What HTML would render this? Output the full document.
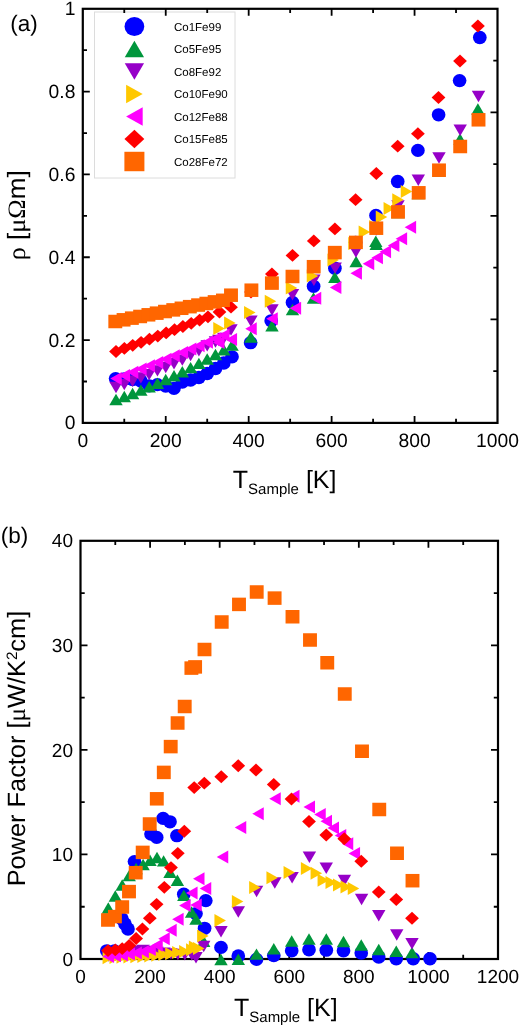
<!DOCTYPE html>
<html lang="en"><head><meta charset="utf-8"><title>CoFe resistivity and power factor</title>
<style>html,body{margin:0;padding:0;background:#fff}svg{display:block}text{font-family:'Liberation Sans', Arial, sans-serif;fill:#000;text-rendering:geometricPrecision}</style>
</head><body>
<svg width="520" height="1028" viewBox="0 0 520 1028">
<rect width="520" height="1028" fill="#fff"/>
<g id="chartA">
<rect x="94.5" y="12" width="140.5" height="166" fill="#fff" stroke="#dcdcdc" stroke-width="1"/>
<path d="M124.27 422.9v-4.2M124.27 8.8v4.2M165.74 422.9v-7M165.74 8.8v7M207.21 422.9v-4.2M207.21 8.8v4.2M248.68 422.9v-7M248.68 8.8v7M290.15 422.9v-4.2M290.15 8.8v4.2M331.62 422.9v-7M331.62 8.8v7M373.09 422.9v-4.2M373.09 8.8v4.2M414.56 422.9v-7M414.56 8.8v7M456.03 422.9v-4.2M456.03 8.8v4.2M82.8 381.49h4.2M82.8 340.08h7M82.8 298.67h4.2M82.8 257.26h7M82.8 215.85h4.2M82.8 174.44h7M82.8 133.03h4.2M82.8 91.62h7M82.8 50.21h4.2M497.5 371.14h-4.2M497.5 319.38h-7M497.5 267.61h-4.2M497.5 215.85h-7M497.5 164.09h-4.2M497.5 112.32h-7M497.5 60.56h-4.2" stroke="#000" stroke-width="1.8" fill="none"/>
<rect x="82.8" y="8.8" width="414.7" height="414.1" fill="none" stroke="#000" stroke-width="2.2"/>
<g><ellipse cx="115.6" cy="378.6" rx="6.85" ry="6.65" fill="#0000FF"/><ellipse cx="124.3" cy="379" rx="6.85" ry="6.65" fill="#0000FF"/><ellipse cx="132.6" cy="379.6" rx="6.85" ry="6.65" fill="#0000FF"/><ellipse cx="140.9" cy="381" rx="6.85" ry="6.65" fill="#0000FF"/><ellipse cx="149.2" cy="385.8" rx="6.85" ry="6.65" fill="#0000FF"/><ellipse cx="157.4" cy="384.6" rx="6.85" ry="6.65" fill="#0000FF"/><ellipse cx="165.7" cy="386" rx="6.85" ry="6.65" fill="#0000FF"/><ellipse cx="174" cy="388.3" rx="6.85" ry="6.65" fill="#0000FF"/><ellipse cx="182.3" cy="382" rx="6.85" ry="6.65" fill="#0000FF"/><ellipse cx="190.6" cy="380" rx="6.85" ry="6.65" fill="#0000FF"/><ellipse cx="198.9" cy="377.5" rx="6.85" ry="6.65" fill="#0000FF"/><ellipse cx="207.2" cy="373.5" rx="6.85" ry="6.65" fill="#0000FF"/><ellipse cx="215.5" cy="368.5" rx="6.85" ry="6.65" fill="#0000FF"/><ellipse cx="223.8" cy="363" rx="6.85" ry="6.65" fill="#0000FF"/><ellipse cx="232" cy="356.8" rx="6.85" ry="6.65" fill="#0000FF"/><ellipse cx="250.6" cy="342.7" rx="6.85" ry="6.65" fill="#0000FF"/><ellipse cx="271.2" cy="320.8" rx="6.85" ry="6.65" fill="#0000FF"/><ellipse cx="292.5" cy="302.5" rx="6.85" ry="6.65" fill="#0000FF"/><ellipse cx="313.6" cy="286.3" rx="6.85" ry="6.65" fill="#0000FF"/><ellipse cx="334.9" cy="268.2" rx="6.85" ry="6.65" fill="#0000FF"/><ellipse cx="355.6" cy="242.5" rx="6.85" ry="6.65" fill="#0000FF"/><ellipse cx="376" cy="215.4" rx="6.85" ry="6.65" fill="#0000FF"/><ellipse cx="397.7" cy="181.5" rx="6.85" ry="6.65" fill="#0000FF"/><ellipse cx="417.9" cy="150.4" rx="6.85" ry="6.65" fill="#0000FF"/><ellipse cx="438.6" cy="114.8" rx="6.85" ry="6.65" fill="#0000FF"/><ellipse cx="459.6" cy="80.6" rx="6.85" ry="6.65" fill="#0000FF"/><ellipse cx="479.8" cy="37.5" rx="6.85" ry="6.65" fill="#0000FF"/></g>
<g><polygon points="109.3,405.2 122.7,405.2 116,393.8" fill="#00963C"/><polygon points="117.59,402.23 130.99,402.23 124.29,390.83" fill="#00963C"/><polygon points="125.88,399.13 139.28,399.13 132.58,387.73" fill="#00963C"/><polygon points="134.17,395.87 147.57,395.87 140.87,384.47" fill="#00963C"/><polygon points="142.46,392.48 155.86,392.48 149.16,381.08" fill="#00963C"/><polygon points="150.75,388.94 164.15,388.94 157.45,377.54" fill="#00963C"/><polygon points="159.04,385.26 172.44,385.26 165.74,373.86" fill="#00963C"/><polygon points="167.33,381.44 180.73,381.44 174.03,370.04" fill="#00963C"/><polygon points="175.62,377.47 189.02,377.47 182.32,366.07" fill="#00963C"/><polygon points="183.91,373.36 197.31,373.36 190.61,361.96" fill="#00963C"/><polygon points="192.2,369.11 205.6,369.11 198.9,357.71" fill="#00963C"/><polygon points="200.49,364.71 213.89,364.71 207.19,353.31" fill="#00963C"/><polygon points="208.78,360.17 222.18,360.17 215.48,348.77" fill="#00963C"/><polygon points="217.07,355.49 230.47,355.49 223.77,344.09" fill="#00963C"/><polygon points="225.36,350.66 238.76,350.66 232.06,339.26" fill="#00963C"/><polygon points="244.1,342.7 257.5,342.7 250.8,331.3" fill="#00963C"/><polygon points="265.3,331.5 278.7,331.5 272,320.1" fill="#00963C"/><polygon points="285.8,315.2 299.2,315.2 292.5,303.8" fill="#00963C"/><polygon points="306.8,303.7 320.2,303.7 313.5,292.3" fill="#00963C"/><polygon points="328.1,283 341.5,283 334.8,271.6" fill="#00963C"/><polygon points="349.4,267.2 362.8,267.2 356.1,255.8" fill="#00963C"/><polygon points="369.1,247 382.5,247 375.8,235.6" fill="#00963C"/><polygon points="369.5,249.9 382.9,249.9 376.2,238.5" fill="#00963C"/><polygon points="391.2,218.3 404.6,218.3 397.9,206.9" fill="#00963C"/><polygon points="411.5,199.3 424.9,199.3 418.2,187.9" fill="#00963C"/><polygon points="432.3,176.7 445.7,176.7 439,165.3" fill="#00963C"/><polygon points="453.3,144.7 466.7,144.7 460,133.3" fill="#00963C"/><polygon points="471.2,114.7 484.6,114.7 477.9,103.3" fill="#00963C"/></g>
<g><polygon points="109.3,381.73 122.7,381.73 116,393.13" fill="#9600C8"/><polygon points="117.59,378.94 130.99,378.94 124.29,390.34" fill="#9600C8"/><polygon points="125.88,375.49 139.28,375.49 132.58,386.89" fill="#9600C8"/><polygon points="134.17,372.2 147.57,372.2 140.87,383.6" fill="#9600C8"/><polygon points="142.46,368.88 155.86,368.88 149.16,380.28" fill="#9600C8"/><polygon points="150.75,365.19 164.15,365.19 157.45,376.59" fill="#9600C8"/><polygon points="159.04,361.82 172.44,361.82 165.74,373.22" fill="#9600C8"/><polygon points="167.33,357.98 180.73,357.98 174.03,369.38" fill="#9600C8"/><polygon points="175.62,354.47 189.02,354.47 182.32,365.87" fill="#9600C8"/><polygon points="183.91,349.85 197.31,349.85 190.61,361.25" fill="#9600C8"/><polygon points="192.2,345.01 205.6,345.01 198.9,356.41" fill="#9600C8"/><polygon points="200.49,340.21 213.89,340.21 207.19,351.61" fill="#9600C8"/><polygon points="208.78,336.31 222.18,336.31 215.48,347.71" fill="#9600C8"/><polygon points="217.07,332.81 230.47,332.81 223.77,344.21" fill="#9600C8"/><polygon points="212.1,334.8 225.5,334.8 218.8,346.2" fill="#9600C8"/><polygon points="224.3,324.3 237.7,324.3 231,335.7" fill="#9600C8"/><polygon points="244.3,315.5 257.7,315.5 251,326.9" fill="#9600C8"/><polygon points="265.3,304.3 278.7,304.3 272,315.7" fill="#9600C8"/><polygon points="285.8,289.1 299.2,289.1 292.5,300.5" fill="#9600C8"/><polygon points="307.2,274.5 320.6,274.5 313.9,285.9" fill="#9600C8"/><polygon points="328.5,262.4 341.9,262.4 335.2,273.8" fill="#9600C8"/><polygon points="349.2,246.3 362.6,246.3 355.9,257.7" fill="#9600C8"/><polygon points="369.8,224.3 383.2,224.3 376.5,235.7" fill="#9600C8"/><polygon points="391.3,200.3 404.7,200.3 398,211.7" fill="#9600C8"/><polygon points="411.6,174.5 425,174.5 418.3,185.9" fill="#9600C8"/><polygon points="432.3,152.3 445.7,152.3 439,163.7" fill="#9600C8"/><polygon points="453.5,124.5 466.9,124.5 460.2,135.9" fill="#9600C8"/><polygon points="471.8,90.8 485.2,90.8 478.5,102.2" fill="#9600C8"/></g>
<g><polygon points="213.25,322.1 213.25,335.1 224.75,328.6" fill="#FFC800"/><polygon points="224.15,316.5 224.15,329.5 235.65,323" fill="#FFC800"/><polygon points="244.05,305.9 244.05,318.9 255.55,312.4" fill="#FFC800"/><polygon points="264.75,294.7 264.75,307.7 276.25,301.2" fill="#FFC800"/><polygon points="285.75,281.5 285.75,294.5 297.25,288" fill="#FFC800"/><polygon points="306.75,269.5 306.75,282.5 318.25,276" fill="#FFC800"/><polygon points="327.45,253.5 327.45,266.5 338.95,260" fill="#FFC800"/><polygon points="348.25,237 348.25,250 359.75,243.5" fill="#FFC800"/><polygon points="358.65,225.5 358.65,238.5 370.15,232" fill="#FFC800"/><polygon points="369.25,220 369.25,233 380.75,226.5" fill="#FFC800"/><polygon points="375.75,210.6 375.75,223.6 387.25,217.1" fill="#FFC800"/><polygon points="383.55,201.9 383.55,214.9 395.05,208.4" fill="#FFC800"/><polygon points="392.25,193.2 392.25,206.2 403.75,199.7" fill="#FFC800"/><polygon points="400.75,184.9 400.75,197.9 412.25,191.4" fill="#FFC800"/></g>
<g><polygon points="121.75,372.1 121.75,385.1 110.25,378.6" fill="#FF00FF"/><polygon points="130.04,368.93 130.04,381.93 118.54,375.43" fill="#FF00FF"/><polygon points="138.33,365.74 138.33,378.74 126.83,372.24" fill="#FF00FF"/><polygon points="146.62,362.51 146.62,375.51 135.12,369.01" fill="#FF00FF"/><polygon points="154.91,359.26 154.91,372.26 143.41,365.76" fill="#FF00FF"/><polygon points="163.2,355.98 163.2,368.98 151.7,362.48" fill="#FF00FF"/><polygon points="171.49,352.67 171.49,365.67 159.99,359.17" fill="#FF00FF"/><polygon points="179.78,349.33 179.78,362.33 168.28,355.83" fill="#FF00FF"/><polygon points="188.07,345.97 188.07,358.97 176.57,352.47" fill="#FF00FF"/><polygon points="196.36,342.57 196.36,355.57 184.86,349.07" fill="#FF00FF"/><polygon points="204.65,339.15 204.65,352.15 193.15,345.65" fill="#FF00FF"/><polygon points="212.94,335.7 212.94,348.7 201.44,342.2" fill="#FF00FF"/><polygon points="221.23,332.22 221.23,345.22 209.73,338.72" fill="#FF00FF"/><polygon points="229.52,328.71 229.52,341.71 218.02,335.21" fill="#FF00FF"/><polygon points="224.55,336 224.55,349 213.05,342.5" fill="#FF00FF"/><polygon points="237.05,332.9 237.05,345.9 225.55,339.4" fill="#FF00FF"/><polygon points="256.75,322.3 256.75,335.3 245.25,328.8" fill="#FF00FF"/><polygon points="277.75,312.3 277.75,325.3 266.25,318.8" fill="#FF00FF"/><polygon points="301.15,301.8 301.15,314.8 289.65,308.3" fill="#FF00FF"/><polygon points="321.25,291.7 321.25,304.7 309.75,298.2" fill="#FF00FF"/><polygon points="341.35,281 341.35,294 329.85,287.5" fill="#FF00FF"/><polygon points="361.95,266.7 361.95,279.7 350.45,273.2" fill="#FF00FF"/><polygon points="374.25,257.3 374.25,270.3 362.75,263.8" fill="#FF00FF"/><polygon points="382.95,251.2 382.95,264.2 371.45,257.7" fill="#FF00FF"/><polygon points="391.05,245.2 391.05,258.2 379.55,251.7" fill="#FF00FF"/><polygon points="399.35,239.1 399.35,252.1 387.85,245.6" fill="#FF00FF"/><polygon points="407.15,232.2 407.15,245.2 395.65,238.7" fill="#FF00FF"/><polygon points="416.15,220.8 416.15,233.8 404.65,227.3" fill="#FF00FF"/></g>
<g><polygon points="109.1,351.5 116,345.1 122.9,351.5 116,357.9" fill="#FF0000"/><polygon points="117.46,348.45 124.36,342.05 131.26,348.45 124.36,354.85" fill="#FF0000"/><polygon points="125.82,345.37 132.72,338.97 139.62,345.37 132.72,351.77" fill="#FF0000"/><polygon points="134.18,342.28 141.08,335.88 147.98,342.28 141.08,348.68" fill="#FF0000"/><polygon points="142.54,339.16 149.44,332.76 156.34,339.16 149.44,345.56" fill="#FF0000"/><polygon points="150.9,336.03 157.8,329.63 164.7,336.03 157.8,342.43" fill="#FF0000"/><polygon points="159.26,332.88 166.16,326.48 173.06,332.88 166.16,339.28" fill="#FF0000"/><polygon points="167.62,329.71 174.52,323.31 181.42,329.71 174.52,336.11" fill="#FF0000"/><polygon points="175.98,326.51 182.88,320.11 189.78,326.51 182.88,332.91" fill="#FF0000"/><polygon points="184.34,323.3 191.24,316.9 198.14,323.3 191.24,329.7" fill="#FF0000"/><polygon points="192.7,320.07 199.6,313.67 206.5,320.07 199.6,326.47" fill="#FF0000"/><polygon points="201.06,316.82 207.96,310.42 214.86,316.82 207.96,323.22" fill="#FF0000"/><polygon points="212.6,312 219.5,305.6 226.4,312 219.5,318.4" fill="#FF0000"/><polygon points="224.1,307.2 231,300.8 237.9,307.2 231,313.6" fill="#FF0000"/><polygon points="244.1,292 251,285.6 257.9,292 251,298.4" fill="#FF0000"/><polygon points="265,274 271.9,267.6 278.8,274 271.9,280.4" fill="#FF0000"/><polygon points="285.6,255.4 292.5,249 299.4,255.4 292.5,261.8" fill="#FF0000"/><polygon points="306.9,240.9 313.8,234.5 320.7,240.9 313.8,247.3" fill="#FF0000"/><polygon points="328,228.9 334.9,222.5 341.8,228.9 334.9,235.3" fill="#FF0000"/><polygon points="348.7,199.7 355.6,193.3 362.5,199.7 355.6,206.1" fill="#FF0000"/><polygon points="369.4,173.5 376.3,167.1 383.2,173.5 376.3,179.9" fill="#FF0000"/><polygon points="390.8,146.2 397.7,139.8 404.6,146.2 397.7,152.6" fill="#FF0000"/><polygon points="411,133.7 417.9,127.3 424.8,133.7 417.9,140.1" fill="#FF0000"/><polygon points="431.6,97.5 438.5,91.1 445.4,97.5 438.5,103.9" fill="#FF0000"/><polygon points="453.1,61 460,54.6 466.9,61 460,67.4" fill="#FF0000"/><polygon points="471,26 477.9,19.6 484.8,26 477.9,32.4" fill="#FF0000"/></g>
<g><rect x="108.35" y="314.75" width="13.9" height="13.5" fill="#FF6600"/><rect x="116.63" y="313.06" width="13.9" height="13.5" fill="#FF6600"/><rect x="124.91" y="311.39" width="13.9" height="13.5" fill="#FF6600"/><rect x="133.19" y="309.72" width="13.9" height="13.5" fill="#FF6600"/><rect x="141.47" y="308.06" width="13.9" height="13.5" fill="#FF6600"/><rect x="149.75" y="306.41" width="13.9" height="13.5" fill="#FF6600"/><rect x="158.03" y="304.77" width="13.9" height="13.5" fill="#FF6600"/><rect x="166.31" y="303.14" width="13.9" height="13.5" fill="#FF6600"/><rect x="174.59" y="301.52" width="13.9" height="13.5" fill="#FF6600"/><rect x="182.87" y="299.91" width="13.9" height="13.5" fill="#FF6600"/><rect x="191.15" y="298.31" width="13.9" height="13.5" fill="#FF6600"/><rect x="199.43" y="296.72" width="13.9" height="13.5" fill="#FF6600"/><rect x="207.71" y="295.13" width="13.9" height="13.5" fill="#FF6600"/><rect x="215.99" y="293.56" width="13.9" height="13.5" fill="#FF6600"/><rect x="224.05" y="288.45" width="13.9" height="13.5" fill="#FF6600"/><rect x="244.45" y="283.45" width="13.9" height="13.5" fill="#FF6600"/><rect x="264.95" y="276.35" width="13.9" height="13.5" fill="#FF6600"/><rect x="285.55" y="269.75" width="13.9" height="13.5" fill="#FF6600"/><rect x="306.75" y="259.95" width="13.9" height="13.5" fill="#FF6600"/><rect x="327.85" y="245.85" width="13.9" height="13.5" fill="#FF6600"/><rect x="348.95" y="235.65" width="13.9" height="13.5" fill="#FF6600"/><rect x="369.35" y="221.45" width="13.9" height="13.5" fill="#FF6600"/><rect x="391.05" y="205.15" width="13.9" height="13.5" fill="#FF6600"/><rect x="411.75" y="186.05" width="13.9" height="13.5" fill="#FF6600"/><rect x="432.05" y="163.45" width="13.9" height="13.5" fill="#FF6600"/><rect x="453.25" y="139.75" width="13.9" height="13.5" fill="#FF6600"/><rect x="471.55" y="113.05" width="13.9" height="13.5" fill="#FF6600"/></g>
<ellipse cx="134.4" cy="26.5" rx="9.86" ry="9.58" fill="#0000FF"/>
<text x="174" y="30.7" font-size="11.5">Co1Fe99</text>
<polygon points="124.75,57.21 144.05,57.21 134.4,40.79" fill="#00963C"/>
<text x="174" y="53.2" font-size="11.5">Co5Fe95</text>
<polygon points="124.75,63.29 144.05,63.29 134.4,79.71" fill="#9600C8"/>
<text x="174" y="75.7" font-size="11.5">Co8Fe92</text>
<polygon points="126.12,84.64 126.12,103.36 142.68,94" fill="#FFC800"/>
<text x="174" y="98.2" font-size="11.5">Co10Fe90</text>
<polygon points="142.68,107.14 142.68,125.86 126.12,116.5" fill="#FF00FF"/>
<text x="174" y="120.7" font-size="11.5">Co12Fe88</text>
<polygon points="124.46,139 134.4,129.78 144.34,139 134.4,148.22" fill="#FF0000"/>
<text x="174" y="143.2" font-size="11.5">Co15Fe85</text>
<rect x="124.39" y="151.78" width="20.02" height="19.44" fill="#FF6600"/>
<text x="174" y="165.7" font-size="11.5">Co28Fe72</text>
<text x="82.8" y="447.4" font-size="19.3" text-anchor="middle">0</text>
<text x="165.74" y="447.4" font-size="19.3" text-anchor="middle">200</text>
<text x="248.68" y="447.4" font-size="19.3" text-anchor="middle">400</text>
<text x="331.62" y="447.4" font-size="19.3" text-anchor="middle">600</text>
<text x="414.56" y="447.4" font-size="19.3" text-anchor="middle">800</text>
<text x="497.5" y="447.4" font-size="19.3" text-anchor="middle">1000</text>
<text x="75.4" y="429.4" font-size="19.3" text-anchor="end">0</text>
<text x="75.4" y="346.58" font-size="19.3" text-anchor="end">0.2</text>
<text x="75.4" y="263.76" font-size="19.3" text-anchor="end">0.4</text>
<text x="75.4" y="180.94" font-size="19.3" text-anchor="end">0.6</text>
<text x="75.4" y="98.12" font-size="19.3" text-anchor="end">0.8</text>
<text x="75.4" y="14.7" font-size="19.3" text-anchor="end">1</text>
<text x="10.2" y="30.8" font-size="22.5">(a)</text>
<text x="232.8" y="487.6" font-size="25">T<tspan font-size="15" dy="6.2">Sample</tspan><tspan dy="-6.2"> [K]</tspan></text>
<text transform="translate(25.3 260.2) rotate(-90)" font-size="25" textLength="90" lengthAdjust="spacingAndGlyphs"><tspan font-family='Liberation Serif, DejaVu Serif, serif'>ρ</tspan> [<tspan font-family='Liberation Serif, DejaVu Serif, serif'>μΩ</tspan>m]</text>
</g>
<g id="chartB">
<path d="M115.29 959v-4.2M115.29 540.8v4.2M150.08 959v-7M150.08 540.8v7M184.88 959v-4.2M184.88 540.8v4.2M219.67 959v-7M219.67 540.8v7M254.46 959v-4.2M254.46 540.8v4.2M289.25 959v-7M289.25 540.8v7M324.04 959v-4.2M324.04 540.8v4.2M358.83 959v-7M358.83 540.8v7M393.62 959v-4.2M393.62 540.8v4.2M428.42 959v-7M428.42 540.8v7M463.21 959v-4.2M463.21 540.8v4.2M80.5 906.73h4.2M498 906.73h-4.2M80.5 854.45h7M498 854.45h-7M80.5 802.17h4.2M498 802.17h-4.2M80.5 749.9h7M498 749.9h-7M80.5 697.62h4.2M498 697.62h-4.2M80.5 645.35h7M498 645.35h-7M80.5 593.07h4.2M498 593.07h-4.2" stroke="#000" stroke-width="1.8" fill="none"/>
<rect x="80.5" y="540.8" width="417.5" height="418.2" fill="none" stroke="#000" stroke-width="2.2"/>
<g><ellipse cx="106.8" cy="950.8" rx="6.85" ry="6.65" fill="#0000FF"/><ellipse cx="114.5" cy="951" rx="6.85" ry="6.65" fill="#0000FF"/><ellipse cx="122" cy="919" rx="6.85" ry="6.65" fill="#0000FF"/><ellipse cx="125" cy="924" rx="6.85" ry="6.65" fill="#0000FF"/><ellipse cx="128" cy="929" rx="6.85" ry="6.65" fill="#0000FF"/><ellipse cx="134.5" cy="861.6" rx="6.85" ry="6.65" fill="#0000FF"/><ellipse cx="151" cy="834" rx="6.85" ry="6.65" fill="#0000FF"/><ellipse cx="156.7" cy="837.4" rx="6.85" ry="6.65" fill="#0000FF"/><ellipse cx="163.1" cy="818.4" rx="6.85" ry="6.65" fill="#0000FF"/><ellipse cx="170" cy="821.8" rx="6.85" ry="6.65" fill="#0000FF"/><ellipse cx="176.9" cy="835.7" rx="6.85" ry="6.65" fill="#0000FF"/><ellipse cx="183.8" cy="894.2" rx="6.85" ry="6.65" fill="#0000FF"/><ellipse cx="205.8" cy="900.6" rx="6.85" ry="6.65" fill="#0000FF"/><ellipse cx="196" cy="913.6" rx="6.85" ry="6.65" fill="#0000FF"/><ellipse cx="204.6" cy="928.3" rx="6.85" ry="6.65" fill="#0000FF"/><ellipse cx="221" cy="947.4" rx="6.85" ry="6.65" fill="#0000FF"/><ellipse cx="238.3" cy="956" rx="6.85" ry="6.65" fill="#0000FF"/><ellipse cx="256.5" cy="959.4" rx="6.85" ry="6.65" fill="#0000FF"/><ellipse cx="273.8" cy="955.6" rx="6.85" ry="6.65" fill="#0000FF"/><ellipse cx="291.7" cy="950.8" rx="6.85" ry="6.65" fill="#0000FF"/><ellipse cx="309" cy="949.8" rx="6.85" ry="6.65" fill="#0000FF"/><ellipse cx="326.3" cy="950.2" rx="6.85" ry="6.65" fill="#0000FF"/><ellipse cx="343.5" cy="950.8" rx="6.85" ry="6.65" fill="#0000FF"/><ellipse cx="361.25" cy="953" rx="6.85" ry="6.65" fill="#0000FF"/><ellipse cx="378.75" cy="957" rx="6.85" ry="6.65" fill="#0000FF"/><ellipse cx="396.25" cy="958.75" rx="6.85" ry="6.65" fill="#0000FF"/><ellipse cx="413.25" cy="958.75" rx="6.85" ry="6.65" fill="#0000FF"/><ellipse cx="430" cy="958.75" rx="6.85" ry="6.65" fill="#0000FF"/></g>
<g><polygon points="101.6,913.7 115,913.7 108.3,902.3" fill="#00963C"/><polygon points="108.6,901.7 122,901.7 115.3,890.3" fill="#00963C"/><polygon points="115.5,890.7 128.9,890.7 122.2,879.3" fill="#00963C"/><polygon points="122.5,881.2 135.9,881.2 129.2,869.8" fill="#00963C"/><polygon points="129.4,874.2 142.8,874.2 136.1,862.8" fill="#00963C"/><polygon points="136.4,870.2 149.8,870.2 143.1,858.8" fill="#00963C"/><polygon points="143.3,866 156.7,866 150,854.6" fill="#00963C"/><polygon points="150.3,863.2 163.7,863.2 157,851.8" fill="#00963C"/><polygon points="156.9,866.6 170.3,866.6 163.6,855.2" fill="#00963C"/><polygon points="163.3,877.9 176.7,877.9 170,866.5" fill="#00963C"/><polygon points="170.7,886 184.1,886 177.4,874.6" fill="#00963C"/><polygon points="177.1,901.1 190.5,901.1 183.8,889.7" fill="#00963C"/><polygon points="184.9,917.7 198.3,917.7 191.6,906.3" fill="#00963C"/><polygon points="189.3,924.7 202.7,924.7 196,913.3" fill="#00963C"/><polygon points="197,947 210.4,947 203.7,935.6" fill="#00963C"/><polygon points="214.3,965.2 227.7,965.2 221,953.8" fill="#00963C"/><polygon points="231.6,965 245,965 238.3,953.6" fill="#00963C"/><polygon points="249.8,959.8 263.2,959.8 256.5,948.4" fill="#00963C"/><polygon points="267.1,954.5 280.5,954.5 273.8,943.1" fill="#00963C"/><polygon points="285,946.7 298.4,946.7 291.7,935.3" fill="#00963C"/><polygon points="302.3,944.7 315.7,944.7 309,933.3" fill="#00963C"/><polygon points="319.6,944.7 333,944.7 326.3,933.3" fill="#00963C"/><polygon points="336.8,947.2 350.2,947.2 343.5,935.8" fill="#00963C"/><polygon points="354.55,950.7 367.95,950.7 361.25,939.3" fill="#00963C"/><polygon points="372.05,955.2 385.45,955.2 378.75,943.8" fill="#00963C"/><polygon points="389.55,956.95 402.95,956.95 396.25,945.55" fill="#00963C"/><polygon points="405.3,958.2 418.7,958.2 412,946.8" fill="#00963C"/></g>
<g><polygon points="101.6,950.3 115,950.3 108.3,961.7" fill="#9600C8"/><polygon points="108.56,949.63 121.96,949.63 115.26,961.03" fill="#9600C8"/><polygon points="115.52,948.96 128.92,948.96 122.22,960.36" fill="#9600C8"/><polygon points="122.48,948.23 135.88,948.23 129.18,959.63" fill="#9600C8"/><polygon points="129.44,945.58 142.84,945.58 136.14,956.98" fill="#9600C8"/><polygon points="136.4,944.81 149.8,944.81 143.1,956.21" fill="#9600C8"/><polygon points="143.36,945.81 156.76,945.81 150.06,957.21" fill="#9600C8"/><polygon points="150.32,946.8 163.72,946.8 157.02,958.2" fill="#9600C8"/><polygon points="157.28,947.46 170.68,947.46 163.98,958.86" fill="#9600C8"/><polygon points="164.24,948.13 177.64,948.13 170.94,959.53" fill="#9600C8"/><polygon points="171.2,948.79 184.6,948.79 177.9,960.19" fill="#9600C8"/><polygon points="178.16,949.04 191.56,949.04 184.86,960.45" fill="#9600C8"/><polygon points="185.12,949.29 198.52,949.29 191.82,960.69" fill="#9600C8"/><polygon points="189.3,952.1 202.7,952.1 196,963.5" fill="#9600C8"/><polygon points="197,940.8 210.4,940.8 203.7,952.2" fill="#9600C8"/><polygon points="214.3,926.1 227.7,926.1 221,937.5" fill="#9600C8"/><polygon points="231.6,906.3 245,906.3 238.3,917.7" fill="#9600C8"/><polygon points="249.9,885.8 263.3,885.8 256.6,897.2" fill="#9600C8"/><polygon points="268.1,877.3 281.5,877.3 274.8,888.7" fill="#9600C8"/><polygon points="285.4,872.1 298.8,872.1 292.1,883.5" fill="#9600C8"/><polygon points="302.7,851.6 316.1,851.6 309.4,863" fill="#9600C8"/><polygon points="319.55,862.55 332.95,862.55 326.25,873.95" fill="#9600C8"/><polygon points="337.7,874.8 351.1,874.8 344.4,886.2" fill="#9600C8"/><polygon points="354.9,893.8 368.3,893.8 361.6,905.2" fill="#9600C8"/><polygon points="372.05,910.05 385.45,910.05 378.75,921.45" fill="#9600C8"/><polygon points="390.05,929.3 403.45,929.3 396.75,940.7" fill="#9600C8"/><polygon points="405.3,938.05 418.7,938.05 412,949.45" fill="#9600C8"/></g>
<g><polygon points="102.55,951.3 102.55,964.3 114.05,957.8" fill="#FFC800"/><polygon points="109.51,951.06 109.51,964.06 121.01,957.56" fill="#FFC800"/><polygon points="116.47,950.82 116.47,963.82 127.97,957.32" fill="#FFC800"/><polygon points="123.43,950.58 123.43,963.58 134.93,957.08" fill="#FFC800"/><polygon points="130.39,950.34 130.39,963.34 141.89,956.84" fill="#FFC800"/><polygon points="137.35,950.1 137.35,963.1 148.85,956.6" fill="#FFC800"/><polygon points="144.31,949.56 144.31,962.56 155.81,956.06" fill="#FFC800"/><polygon points="151.27,948.8 151.27,961.8 162.77,955.3" fill="#FFC800"/><polygon points="158.23,948.05 158.23,961.05 169.73,954.55" fill="#FFC800"/><polygon points="165.19,947.2 165.19,960.2 176.69,953.7" fill="#FFC800"/><polygon points="172.15,946.11 172.15,959.11 183.65,952.61" fill="#FFC800"/><polygon points="179.11,945.02 179.11,958.02 190.61,951.52" fill="#FFC800"/><polygon points="186.07,943.34 186.07,956.34 197.57,949.84" fill="#FFC800"/><polygon points="193.03,942.04 193.03,955.04 204.53,948.54" fill="#FFC800"/><polygon points="188.85,940.5 188.85,953.5 200.35,947" fill="#FFC800"/><polygon points="197.15,929.5 197.15,942.5 208.65,936" fill="#FFC800"/><polygon points="214.45,914 214.45,927 225.95,920.5" fill="#FFC800"/><polygon points="231.85,894.9 231.85,907.9 243.35,901.4" fill="#FFC800"/><polygon points="249.15,880.9 249.15,893.9 260.65,887.4" fill="#FFC800"/><polygon points="266.45,871.2 266.45,884.2 277.95,877.7" fill="#FFC800"/><polygon points="283.55,866 283.55,879 295.05,872.5" fill="#FFC800"/><polygon points="300.85,861.9 300.85,874.9 312.35,868.4" fill="#FFC800"/><polygon points="310.55,866.7 310.55,879.7 322.05,873.2" fill="#FFC800"/><polygon points="317.55,873.8 317.55,886.8 329.05,880.3" fill="#FFC800"/><polygon points="325.5,876 325.5,889 337,882.5" fill="#FFC800"/><polygon points="333,878.5 333,891.5 344.5,885" fill="#FFC800"/><polygon points="340.5,880.5 340.5,893.5 352,887" fill="#FFC800"/><polygon points="347.75,882 347.75,895 359.25,888.5" fill="#FFC800"/></g>
<g><polygon points="114.05,950 114.05,963 102.55,956.5" fill="#FF00FF"/><polygon points="121.01,949.24 121.01,962.24 109.51,955.74" fill="#FF00FF"/><polygon points="127.97,948.47 127.97,961.47 116.47,954.97" fill="#FF00FF"/><polygon points="134.93,947.47 134.93,960.47 123.43,953.97" fill="#FF00FF"/><polygon points="141.89,946.47 141.89,959.47 130.39,952.97" fill="#FF00FF"/><polygon points="148.85,945.21 148.85,958.21 137.35,951.71" fill="#FF00FF"/><polygon points="155.81,942.88 155.81,955.88 144.31,949.38" fill="#FF00FF"/><polygon points="162.77,938.66 162.77,951.66 151.27,945.16" fill="#FF00FF"/><polygon points="169.73,932.3 169.73,945.3 158.23,938.8" fill="#FF00FF"/><polygon points="176.69,923.82 176.69,936.82 165.19,930.32" fill="#FF00FF"/><polygon points="183.65,912.65 183.65,925.65 172.15,919.15" fill="#FF00FF"/><polygon points="190.61,898.98 190.61,911.98 179.11,905.48" fill="#FF00FF"/><polygon points="197.57,886.53 197.57,899.53 186.07,893.03" fill="#FF00FF"/><polygon points="204.53,872.14 204.53,885.14 193.03,878.64" fill="#FF00FF"/><polygon points="201.75,898.5 201.75,911.5 190.25,905" fill="#FF00FF"/><polygon points="211.25,882 211.25,895 199.75,888.5" fill="#FF00FF"/><polygon points="228.25,850.5 228.25,863.5 216.75,857" fill="#FF00FF"/><polygon points="246.25,821 246.25,834 234.75,827.5" fill="#FF00FF"/><polygon points="263.75,807.25 263.75,820.25 252.25,813.75" fill="#FF00FF"/><polygon points="280.75,792.25 280.75,805.25 269.25,798.75" fill="#FF00FF"/><polygon points="299.5,789.75 299.5,802.75 288,796.25" fill="#FF00FF"/><polygon points="315,800.4 315,813.4 303.5,806.9" fill="#FF00FF"/><polygon points="325.75,808 325.75,821 314.25,814.5" fill="#FF00FF"/><polygon points="332,814.75 332,827.75 320.5,821.25" fill="#FF00FF"/><polygon points="339,821.5 339,834.5 327.5,828" fill="#FF00FF"/><polygon points="346.25,829 346.25,842 334.75,835.5" fill="#FF00FF"/><polygon points="353.25,837.25 353.25,850.25 341.75,843.75" fill="#FF00FF"/><polygon points="360.05,846.9 360.05,859.9 348.55,853.4" fill="#FF00FF"/></g>
<g><polygon points="101.1,950.6 108,944.2 114.9,950.6 108,957" fill="#FF0000"/><polygon points="108.4,949.8 115.3,943.4 122.2,949.8 115.3,956.2" fill="#FF0000"/><polygon points="115.3,948.6 122.2,942.2 129.1,948.6 122.2,955" fill="#FF0000"/><polygon points="122.3,945.5 129.2,939.1 136.1,945.5 129.2,951.9" fill="#FF0000"/><polygon points="129.2,938.5 136.1,932.1 143,938.5 136.1,944.9" fill="#FF0000"/><polygon points="135.5,929 142.4,922.6 149.3,929 142.4,935.4" fill="#FF0000"/><polygon points="142.9,918.2 149.8,911.8 156.7,918.2 149.8,924.6" fill="#FF0000"/><polygon points="149.7,904.3 156.6,897.9 163.5,904.3 156.6,910.7" fill="#FF0000"/><polygon points="157.4,887.3 164.3,880.9 171.2,887.3 164.3,893.7" fill="#FF0000"/><polygon points="164.1,867.6 171,861.2 177.9,867.6 171,874" fill="#FF0000"/><polygon points="170.9,853.3 177.8,846.9 184.7,853.3 177.8,859.7" fill="#FF0000"/><polygon points="177.4,831.25 184.3,824.85 191.2,831.25 184.3,837.65" fill="#FF0000"/><polygon points="187.3,787.6 194.2,781.2 201.1,787.6 194.2,794" fill="#FF0000"/><polygon points="197.4,783.2 204.3,776.8 211.2,783.2 204.3,789.6" fill="#FF0000"/><polygon points="214.35,776.75 221.25,770.35 228.15,776.75 221.25,783.15" fill="#FF0000"/><polygon points="231.35,765.75 238.25,759.35 245.15,765.75 238.25,772.15" fill="#FF0000"/><polygon points="249.1,770 256,763.6 262.9,770 256,776.4" fill="#FF0000"/><polygon points="266.85,784.5 273.75,778.1 280.65,784.5 273.75,790.9" fill="#FF0000"/><polygon points="284.6,799 291.5,792.6 298.4,799 291.5,805.4" fill="#FF0000"/><polygon points="302.1,821.5 309,815.1 315.9,821.5 309,827.9" fill="#FF0000"/><polygon points="319.35,835 326.25,828.6 333.15,835 326.25,841.4" fill="#FF0000"/><polygon points="337.35,838.75 344.25,832.35 351.15,838.75 344.25,845.15" fill="#FF0000"/><polygon points="354.35,861.25 361.25,854.85 368.15,861.25 361.25,867.65" fill="#FF0000"/><polygon points="371.85,892 378.75,885.6 385.65,892 378.75,898.4" fill="#FF0000"/><polygon points="389.35,899.5 396.25,893.1 403.15,899.5 396.25,905.9" fill="#FF0000"/><polygon points="405.1,918.25 412,911.85 418.9,918.25 412,924.65" fill="#FF0000"/></g>
<g><rect x="101.05" y="913.25" width="13.9" height="13.5" fill="#FF6600"/><rect x="107.95" y="909.85" width="13.9" height="13.5" fill="#FF6600"/><rect x="115.25" y="900.25" width="13.9" height="13.5" fill="#FF6600"/><rect x="122.05" y="884.85" width="13.9" height="13.5" fill="#FF6600"/><rect x="128.75" y="865.95" width="13.9" height="13.5" fill="#FF6600"/><rect x="135.75" y="845.65" width="13.9" height="13.5" fill="#FF6600"/><rect x="142.75" y="817.25" width="13.9" height="13.5" fill="#FF6600"/><rect x="149.85" y="792.05" width="13.9" height="13.5" fill="#FF6600"/><rect x="156.85" y="765.65" width="13.9" height="13.5" fill="#FF6600"/><rect x="163.75" y="739.85" width="13.9" height="13.5" fill="#FF6600"/><rect x="170.65" y="716.25" width="13.9" height="13.5" fill="#FF6600"/><rect x="177.75" y="699.75" width="13.9" height="13.5" fill="#FF6600"/><rect x="184.45" y="661.35" width="13.9" height="13.5" fill="#FF6600"/><rect x="188.15" y="660.15" width="13.9" height="13.5" fill="#FF6600"/><rect x="197.55" y="642.75" width="13.9" height="13.5" fill="#FF6600"/><rect x="214.75" y="615.25" width="13.9" height="13.5" fill="#FF6600"/><rect x="232.05" y="597.65" width="13.9" height="13.5" fill="#FF6600"/><rect x="249.75" y="585.25" width="13.9" height="13.5" fill="#FF6600"/><rect x="267.65" y="591.35" width="13.9" height="13.5" fill="#FF6600"/><rect x="285.55" y="610" width="13.9" height="13.5" fill="#FF6600"/><rect x="303.05" y="633.25" width="13.9" height="13.5" fill="#FF6600"/><rect x="320.3" y="656" width="13.9" height="13.5" fill="#FF6600"/><rect x="337.8" y="687.25" width="13.9" height="13.5" fill="#FF6600"/><rect x="355.05" y="744.5" width="13.9" height="13.5" fill="#FF6600"/><rect x="372.3" y="802.75" width="13.9" height="13.5" fill="#FF6600"/><rect x="390.05" y="846.5" width="13.9" height="13.5" fill="#FF6600"/><rect x="405.55" y="873.95" width="13.9" height="13.5" fill="#FF6600"/></g>
<text x="80.5" y="983.3" font-size="19" text-anchor="middle">0</text>
<text x="150.08" y="983.3" font-size="19" text-anchor="middle">200</text>
<text x="219.67" y="983.3" font-size="19" text-anchor="middle">400</text>
<text x="289.25" y="983.3" font-size="19" text-anchor="middle">600</text>
<text x="358.83" y="983.3" font-size="19" text-anchor="middle">800</text>
<text x="428.42" y="983.3" font-size="19" text-anchor="middle">1000</text>
<text x="498" y="983.3" font-size="19" text-anchor="middle">1200</text>
<text x="73" y="965.6" font-size="19" text-anchor="end">0</text>
<text x="73" y="861.05" font-size="19" text-anchor="end">10</text>
<text x="73" y="756.5" font-size="19" text-anchor="end">20</text>
<text x="73" y="651.95" font-size="19" text-anchor="end">30</text>
<text x="73" y="547.4" font-size="19" text-anchor="end">40</text>
<text x="0.8" y="542.6" font-size="22.5">(b)</text>
<text x="234" y="1015.6" font-size="25">T<tspan font-size="15" dy="6.2">Sample</tspan><tspan dy="-6.2"> [K]</tspan></text>
<text transform="translate(25.4 886.3) rotate(-90)" font-size="25" textLength="275.5" lengthAdjust="spacingAndGlyphs">Power Factor [<tspan font-family='Liberation Serif, DejaVu Serif, serif'>μ</tspan>W/K<tspan font-size="15" dy="-8.5">2</tspan><tspan dy="8.5">cm]</tspan></text>
</g>
</svg></body></html>
